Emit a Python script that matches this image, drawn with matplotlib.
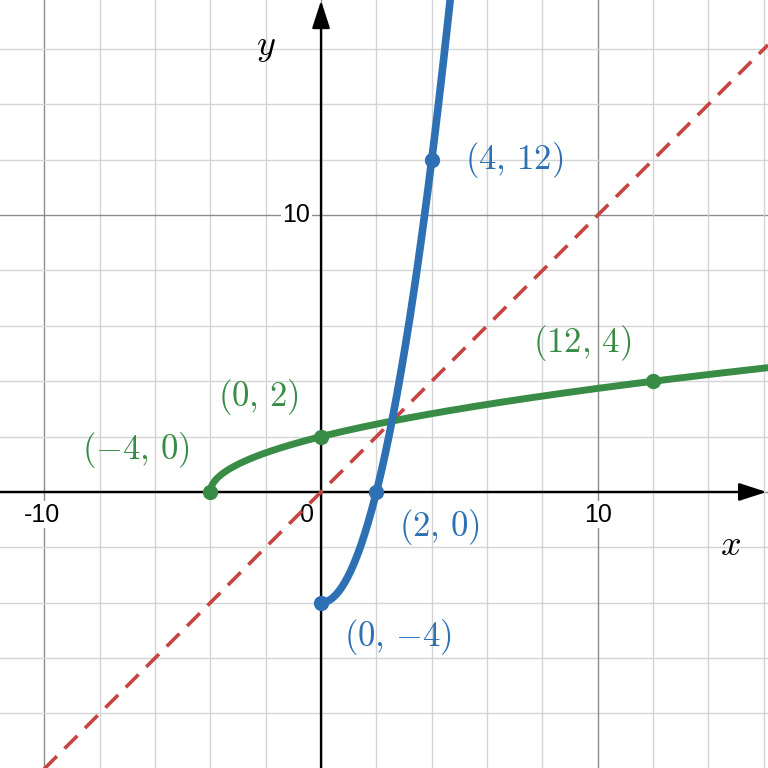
import numpy as np
import matplotlib.pyplot as plt

plt.rcParams['mathtext.fontset'] = 'cm'

# view window
x_min, x_max = -11.6, 16.15
y_min, y_max = -9.97, 17.77

# labelled points
blue_pts_x = [0, 2, 4]
blue_pts_y = [-4, 0, 12]
blue_labels = ['$(0,\\,{-4})$', '$(2,\\,0)$', '$(4,\\,12)$']
blue_label_pos = [(2.78, -5.23), (4.3, -1.26), (5.2, 12.0)]
blue_label_ha = ['center', 'center', 'left']

green_pts_x = [-4, 0, 12]
green_pts_y = [0, 2, 4]
green_labels = ['$({-4},\\,0)$', '$(0,\\,2)$', '$(12,\\,4)$']
green_label_pos = [(-6.7, 1.5), (-2.24, 3.43), (9.42, 5.38)]

tick_vals = [-10, 0, 10]
tick_x_pos = [-10.07, -0.5, 10.0]

blue = '#2d70b3'
green = '#388c46'
red = '#c74440'

fig = plt.figure(figsize=(7.68, 7.68), dpi=100)
ax = fig.add_axes([0, 0, 1, 1])
ax.set_xlim(x_min, x_max)
ax.set_ylim(y_min, y_max)
ax.axis('off')

# grid
for g in np.arange(-10, 18, 2):
    c = '#8c8c8c' if g % 10 == 0 else '#d4d4d4'
    ax.axvline(g, color=c, lw=1, zorder=0)
    ax.axhline(g, color=c, lw=1, zorder=0)

# axes with arrows
arrow = dict(arrowstyle='-|>,head_length=1.7,head_width=0.55',
             color='black', lw=1.7, shrinkA=0, shrinkB=0)
ax.annotate('', xy=(x_max - 0.05, 0), xytext=(x_min, 0), arrowprops=arrow, zorder=2)
ax.annotate('', xy=(0, y_max - 0.02), xytext=(0, y_min), arrowprops=arrow, zorder=2)

# tick labels
box = dict(facecolor='white', edgecolor='none', pad=1)
for t, tx in zip(tick_vals, tick_x_pos):
    ax.text(tx, -0.82, str(t), ha='center', va='center',
            fontsize=18, family='Liberation Sans', bbox=box, zorder=3)
ax.text(-0.9, 10, '10', ha='center', va='center', fontsize=18,
        family='Liberation Sans', bbox=box, zorder=3)

ax.text(-2.0, 16.06, '$y$', ha='center', va='center', fontsize=26)
ax.text(14.8, -1.9, '$x$', ha='center', va='center', fontsize=26)

# curves
xr = np.linspace(x_min, x_max, 200)
ax.plot(xr, xr, color=red, lw=2.6, dashes=(5, 3), zorder=4)

xg = np.linspace(-4, x_max, 600)
ax.plot(xg, np.sqrt(xg + 4), color=green, lw=5, solid_capstyle='round', zorder=5)

xb = np.linspace(0, np.sqrt(y_max + 4) + 0.05, 400)
ax.plot(xb, xb ** 2 - 4, color=blue, lw=5.5, solid_capstyle='round', zorder=6)

ax.plot(green_pts_x, green_pts_y, 'o', color=green, ms=10, zorder=7)
ax.plot(blue_pts_x, blue_pts_y, 'o', color=blue, ms=10, zorder=7)

for lab, (tx, ty) in zip(green_labels, green_label_pos):
    ax.text(tx, ty, lab, color=green, ha='center', va='center', fontsize=25, zorder=8)
for lab, (tx, ty), ha in zip(blue_labels, blue_label_pos, blue_label_ha):
    ax.text(tx, ty, lab, color=blue, ha=ha, va='center', fontsize=25, zorder=8)

fig.savefig('out.png', dpi=100)
